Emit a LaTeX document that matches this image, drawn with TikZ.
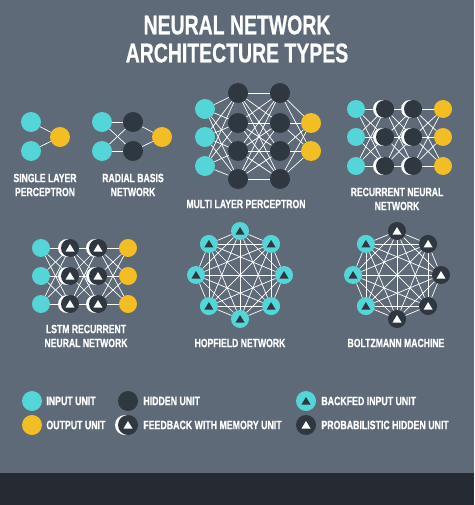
\documentclass[tikz,border=0pt]{standalone}
\usepackage{fontspec}
\setmainfont{Liberation Sans}
\newfontfamily\headfont[FakeStretch=0.72, FakeBold=0.6]{Liberation Sans}
\usetikzlibrary{positioning}

\definecolor{panelgray}{RGB}{94,106,119}
\definecolor{bandblack}{RGB}{38,43,51}
\definecolor{inputcyan}{RGB}{84,214,216}
\definecolor{outputyellow}{RGB}{242,190,36}
\definecolor{hiddendark}{RGB}{47,55,65}

\pgfdeclarelayer{backdrop}
\pgfdeclarelayer{links}
\pgfsetlayers{backdrop,links,main}

\tikzset{
  unit/.style = {circle, minimum size=20pt, inner sep=0pt},
  small/.style = {minimum size=18pt},
  input unit/.style = {unit, fill=inputcyan},
  output unit/.style = {unit, fill=outputyellow},
  hidden unit/.style = {unit, fill=hiddendark},
  memory unit/.style = {hidden unit, preaction={fill=white, transform canvas={xshift=-3pt}}},
  tri/.style = {path picture={\fill[#1]
      ([yshift=4pt]path picture bounding box.center) --
      ([xshift=-4.5pt,yshift=-3.5pt]path picture bounding box.center) --
      ([xshift=4.5pt,yshift=-3.5pt]path picture bounding box.center) -- cycle;}},
  backfed unit/.style = {input unit, tri=hiddendark},
  prob unit/.style = {hidden unit, tri=white},
  lstm unit/.style = {memory unit, tri=white},
  link/.style = {white, line width=0.7pt},
  caption/.style = {text=white, align=center, inner sep=0pt,
      font=\headfont\bfseries\fontsize{12}{14}\selectfont},
  legend/.style = {text=white, anchor=west, inner sep=0pt,
      font=\headfont\bfseries\fontsize{12.2}{14}\selectfont},
}

\begin{document}
\begin{tikzpicture}[x=1pt, y=-1pt]
    \begin{pgfonlayer}{backdrop}
      \fill[panelgray] (0,0) rectangle (474,505);
      \fill[bandblack] (0,473) rectangle (474,505);
    \end{pgfonlayer}

    % title
    \node[text=white, align=center, font=\headfont\bfseries\fontsize{27}{28}\selectfont] (title) at (237,39) {NEURAL NETWORK\\ARCHITECTURE TYPES};

    % single layer perceptron
    \node[input unit] (slp-i1) at (31,122) {};
    \node[input unit] (slp-i2) at (31,151) {};
    \node[output unit] (slp-o) at (60,137) {};
    \node[caption] (slp-label) at (45,185) {SINGLE LAYER\\PERCEPTRON};

    % radial basis network
    \node[input unit] (rbf-i1) at (102,122) {};
    \node[input unit] (rbf-i2) at (102,151) {};
    \node[hidden unit] (rbf-h1) at (133,122) {};
    \node[hidden unit] (rbf-h2) at (133,151) {};
    \node[output unit] (rbf-o) at (162,137) {};
    \node[caption] (rbf-label) at (133,185) {RADIAL BASIS\\NETWORK};

    % multi layer perceptron
    \foreach \k/\y in {1/109, 2/137, 3/166}
      \node[input unit] (mlp-i\k) at (205,\y) {};
    \foreach \k/\y in {1/93, 2/123, 3/151, 4/179} {
      \node[hidden unit] (mlp-a\k) at (238,\y) {};
      \node[hidden unit] (mlp-b\k) at (280,\y) {};
    }
    \node[output unit] (mlp-o1) at (311,123) {};
    \node[output unit] (mlp-o2) at (311,151) {};
    \node[caption] (mlp-label) at (246,204) {MULTI LAYER PERCEPTRON};

    % recurrent neural network
    \foreach \k/\y in {1/109, 2/137, 3/166} {
      \node[input unit, small] (rnn-i\k) at (356,\y) {};
      \node[memory unit, small] (rnn-a\k) at (385,\y) {};
      \node[memory unit, small] (rnn-b\k) at (413,\y) {};
      \node[output unit, small] (rnn-o\k) at (443,\y) {};
    }
    \node[caption] (rnn-label) at (397,199) {RECURRENT NEURAL\\NETWORK};

    % lstm recurrent neural network
    \foreach \k/\y in {1/248, 2/276, 3/304} {
      \node[input unit, small] (lstm-i\k) at (41,\y) {};
      \node[lstm unit, small] (lstm-a\k) at (70,\y) {};
      \node[lstm unit, small] (lstm-b\k) at (98,\y) {};
      \node[output unit, small] (lstm-o\k) at (128,\y) {};
    }
    \node[caption] (lstm-label) at (86,336) {LSTM RECURRENT\\NEURAL NETWORK};

    % hopfield network
    \foreach \k in {1,...,8}
      \node[backfed unit, small] (hop-\k) at ({240+44*cos(135-45*\k)},{275-44*sin(135-45*\k)}) {};
    \node[caption] (hop-label) at (240,343) {HOPFIELD NETWORK};

    % boltzmann machine
    \foreach \k in {1,...,5}
      \node[prob unit, small] (boltz-\k) at ({397+44*cos(135-45*\k)},{275-44*sin(135-45*\k)}) {};
    \foreach \k in {6,7,8}
      \node[backfed unit, small] (boltz-\k) at ({397+44*cos(135-45*\k)},{275-44*sin(135-45*\k)}) {};
    \node[caption] (boltz-label) at (396,343) {BOLTZMANN MACHINE};

    % connections
    \begin{pgfonlayer}{links}
      \draw[link] (slp-i1) -- (slp-o);
      \draw[link] (slp-i2) -- (slp-o);
      \foreach \a in {1,2} {
        \foreach \b in {1,2}
          \draw[link] (rbf-i\a) -- (rbf-h\b);
        \draw[link] (rbf-h\a) -- (rbf-o);
      }
      \foreach \a in {1,2,3,4} {
        \foreach \b in {1,2,3}
          \draw[link] (mlp-i\b) -- (mlp-a\a);
        \foreach \b in {1,2,3,4}
          \draw[link] (mlp-a\a) -- (mlp-b\b);
        \foreach \b in {1,2}
          \draw[link] (mlp-b\a) -- (mlp-o\b);
      }
      \foreach \net in {rnn,lstm}
        \foreach \a in {1,2,3}
          \foreach \b in {1,2,3} {
            \draw[link] (\net-i\a) -- (\net-a\b);
            \draw[link] (\net-a\a) -- (\net-b\b);
            \draw[link] (\net-b\a) -- (\net-o\b);
          }
      \foreach \net in {hop,boltz}
        \foreach \a [evaluate=\a as \n using int(\a+1)] in {1,...,7}
          \foreach \b in {\n,...,8}
            \draw[link] (\net-\a) -- (\net-\b);
    \end{pgfonlayer}

    % legend
    \node[input unit] (leg-input) at (32,401) {};
    \node[legend, right=4pt of leg-input] (leg-input-text) {INPUT UNIT};
    \node[output unit] (leg-output) at (32,425) {};
    \node[legend, right=4pt of leg-output] (leg-output-text) {OUTPUT UNIT};
    \node[hidden unit] (leg-hidden) at (128,401) {};
    \node[legend, right=5pt of leg-hidden] (leg-hidden-text) {HIDDEN UNIT};
    \node[lstm unit] (leg-memory) at (128,425) {};
    \node[legend, right=5pt of leg-memory] (leg-memory-text) {FEEDBACK WITH MEMORY UNIT};
    \node[backfed unit] (leg-backfed) at (306,401) {};
    \node[legend, right=5pt of leg-backfed] (leg-backfed-text) {BACKFED INPUT UNIT};
    \node[prob unit] (leg-prob) at (306,425) {};
    \node[legend, right=5pt of leg-prob] (leg-prob-text) {PROBABILISTIC HIDDEN UNIT};
\end{tikzpicture}
\end{document}
